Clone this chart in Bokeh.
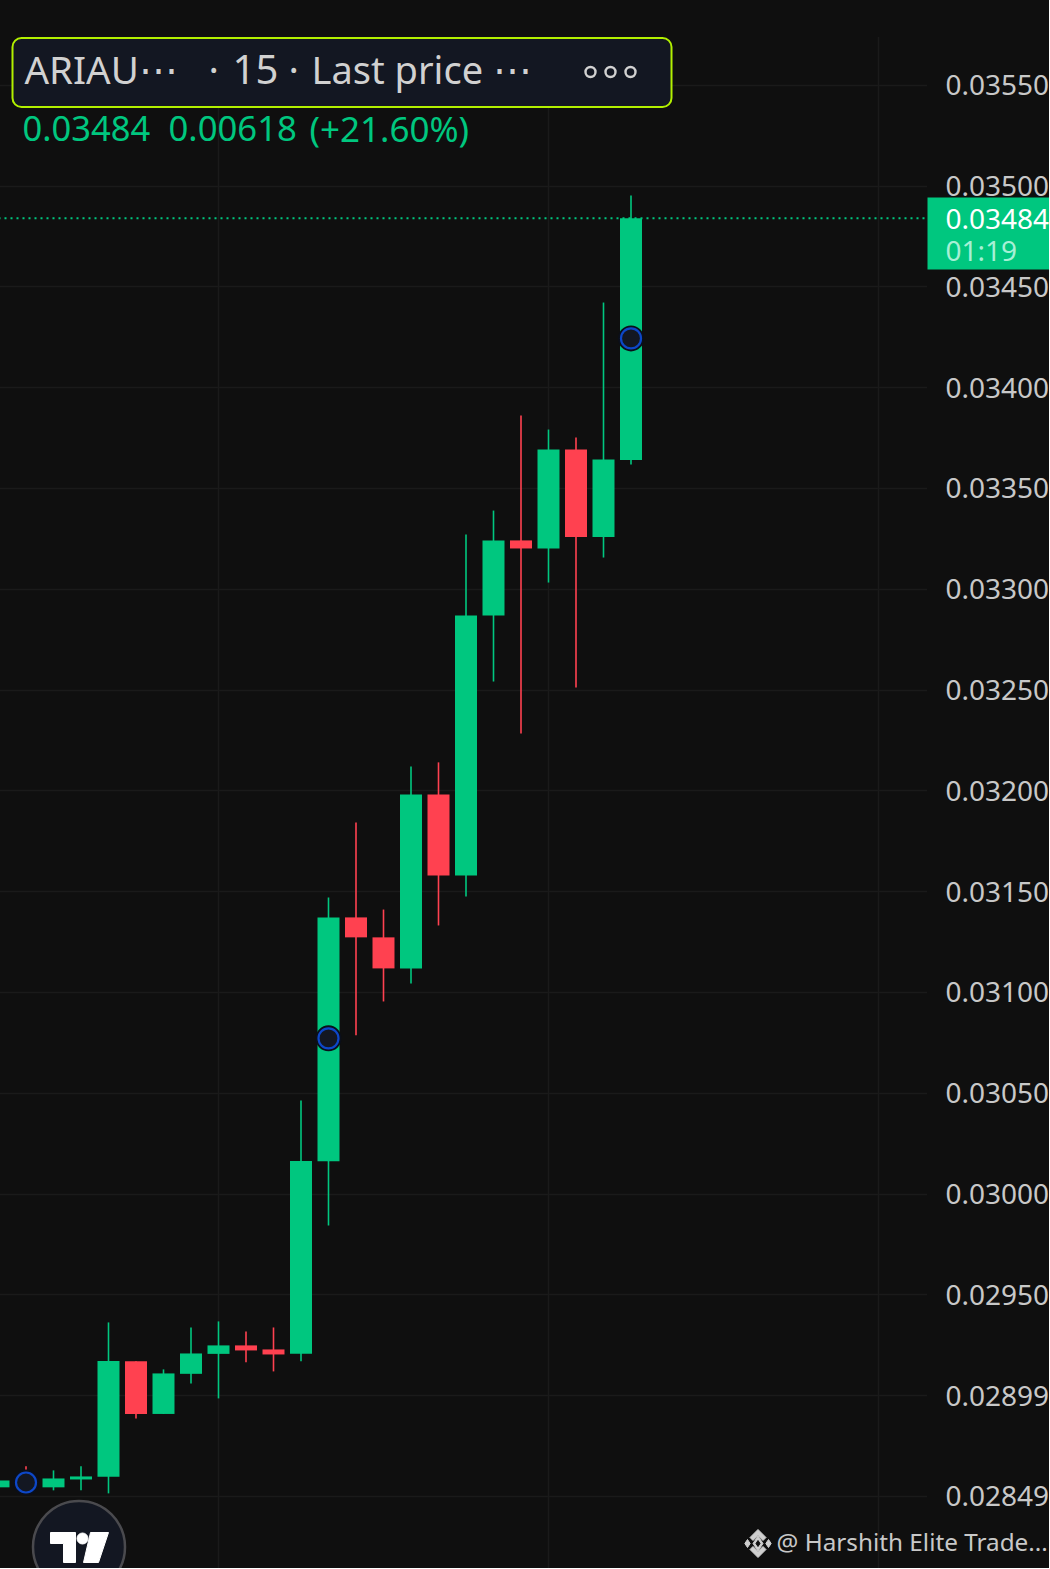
from bokeh.plotting import figure
from bokeh.embed import file_html
from bokeh.resources import INLINE
from bokeh.models import (ColumnDataSource, FixedTicker, Grid, LinearAxis, Range1d,
                          BoxAnnotation, Label)

# ---- data ----
opens = [.028545, .028579, .028545, .028584, .028597, .029170, .028909, .029108,
         .029207, .029249, .029229, .029207, .030162, .031372, .031273, .031119,
         .031982, .031580, .032870, .033242, .033202, .033693, .033259, .033641]
closes = [.028579, .028564, .028589, .028599, .029172, .028909, .029110, .029209,
          .029249, .029224, .029204, .030164, .031372, .031273, .031119, .031982,
          .031580, .032870, .033242, .033202, .033693, .033259, .033643, .034840]
highs = [.028579, .028649, .028629, .028649, .029363, .029170, .029130, .029338,
         .029368, .029318, .029338, .030464, .031471, .031843, .031411, .032121,
         .032141, .033271, .033390, .033862, .033792, .033753, .034422, .034953]
lows = [.028545, .028545, .028530, .028530, .028515, .028887, .028909, .029060,
        .028986, .029165, .029120, .029170, .029844, .030787, .030955, .031044,
        .031332, .031476, .032542, .032284, .033033, .032513, .033157, .033619]
marker_idx = [1, 12, 23]
marker_price = [.028569, .030772, .034244]
last_price = 0.03484
y_ticks = [.0355, .035, .0345, .034, .0335, .033, .0325, .032, .0315, .031, .0305,
           .03, .0295, .029, .0285]
y_labels = ["0.03550", "0.03500", "0.03450", "0.03400", "0.03350", "0.03300", "0.03250",
            "0.03200", "0.03150", "0.03100", "0.03050", "0.03000", "0.02950", "0.02899", "0.02849"]
x_grid = [8, 20, 32]

BG, GRID, UP, DOWN = "#0f0f0f", "#1a1a1a", "#00c77f", "#ff4150"
W, H, FW, OFF = 1049, 1568, 927, 2
PX_PER_UNIT_Y = 100.8 / 0.0005
PX_PER_BAR = 27.5
Y_TOP = 0.035 + 185.5 / PX_PER_UNIT_Y
X_LEFT = 2.0 / PX_PER_BAR

def X(px):
    return X_LEFT + px / PX_PER_BAR

def Y(py):
    return Y_TOP - py / PX_PER_UNIT_Y

def XS(vals):
    return [X(v) for v in vals]

def YS(vals):
    return [Y(v) for v in vals]

p = figure(width=W + OFF, height=H + OFF, output_backend="svg", toolbar_location=None,
           x_range=Range1d(X(-OFF), X(W)), y_range=Range1d(Y(H), Y(-OFF)),
           x_axis_location=None, y_axis_location=None,
           background_fill_color=BG, border_fill_color=BG, outline_line_color=None,
           min_border=0)
p.styles = {"position": "absolute", "left": f"{-OFF}px", "top": f"{-OFF}px"}
p.grid.visible = False

ax = LinearAxis(fixed_location=X(FW))
ax.ticker = FixedTicker(ticks=y_ticks)
ax.major_label_overrides = dict(zip(y_ticks, y_labels))
ax.axis_line_color = None
ax.major_tick_line_color = None
ax.minor_tick_line_color = None
ax.major_tick_out = 0
ax.major_label_standoff = 18
ax.major_label_text_font = "Noto Sans"
ax.major_label_text_font_size = "28px"
ax.major_label_text_color = "#c8c8c8"
p.add_layout(ax, "right")

p.add_layout(Grid(dimension=1, ticker=FixedTicker(ticks=y_ticks),
                  grid_line_color=GRID, grid_line_width=1.5))
p.add_layout(Grid(dimension=0, ticker=FixedTicker(ticks=x_grid),
                  grid_line_color=GRID, grid_line_width=1.5))
# the grid stops at the price scale and below the top band
p.quad(left=[X(FW)], right=[X(W)], bottom=[Y(H)], top=[Y(-OFF)], color=BG)
p.quad(left=[X(-OFF)], right=[X(W)], bottom=[Y(36)], top=[Y(-OFF)], color=BG)

idx = list(range(len(opens)))
colors = [UP if c >= o else DOWN for o, c in zip(opens, closes)]
src = ColumnDataSource(dict(x=idx, open=opens, close=closes, high=highs, low=lows, color=colors))

p.segment("x", "low", "x", "high", source=src, color="color", line_width=1.6)
p.vbar("x", 0.8, "open", "close", source=src, fill_color="color", line_color=None)

p.line(XS([-OFF, FW]), [last_price, last_price], line_color=UP, line_dash="2 4", line_width=1.8)

ms = ColumnDataSource(dict(x=marker_idx, y=marker_price))
p.scatter("x", "y", source=ms, marker="circle", size=26, fill_color="#0b0f1a", line_color=None)
p.scatter("x", "y", source=ms, marker="circle", size=20, fill_color="#131722",
          line_color="#0d47c8", line_width=2.2)

# header pill
p.add_layout(BoxAnnotation(left=X(12), right=X(671), bottom=Y(106.5), top=Y(37.5),
                           fill_color="#131722", fill_alpha=1, line_color="#b2f000",
                           line_alpha=1, line_width=2, border_radius=9))

def lab(text, px, py, size, color, baseline="middle"):
    p.add_layout(Label(x=X(px), y=Y(py), text=text, text_font="Noto Sans",
                       text_font_size=f"{size}px", text_color=color,
                       text_baseline=baseline, text_align="left"))

lab("ARIAU", 24, 68, 38.5, "#d1d1d1")
lab("⋯", 138, 68, 39, "#d1d1d1")
lab("·", 208, 68, 39, "#d1d1d1")
lab("15", 232, 69, 40, "#d1d1d1")
lab("·", 288, 68, 39, "#d1d1d1")
lab("Last price", 311, 68, 38, "#d1d1d1")
lab("⋯", 492, 68, 39, "#d1d1d1")
p.scatter(XS([590, 610, 630]), YS([71.5] * 3), marker="circle", size=10,
          fill_color=None, line_color="#d1d1d1", line_width=2.4, level="overlay")
lab("0.03484", 22, 128, 34.5, UP)
lab("0.00618", 168, 128, 34.7, UP)
lab("(+21.60%)", 309, 128, 35, UP)

# last-price tag
p.add_layout(BoxAnnotation(left=X(FW), right=X(W), bottom=Y(269), top=Y(197),
                           fill_color=UP, fill_alpha=1, line_color=None))
lab("0.03484", 945, 218, 28, "#ffffff")
lab("01:19", 945, 249, 28, "#a6f0d5")

# logo badge
p.scatter([X(78.5)], [Y(1546.5)], marker="circle", size=92, fill_color="#131722",
          line_color="#4a4a4e", line_width=2.5)
p.patch(XS([50, 75, 75, 63, 63, 50]), YS([1532, 1532, 1562, 1562, 1543, 1543]), color="#ffffff")
p.patch(XS([90, 108, 98, 83]), YS([1532, 1532, 1562, 1562]), color="#ffffff")
p.scatter([X(82)], [Y(1538)], marker="circle", size=11, color="#ffffff")

# source credit: exchange emblem then text
cx, cy = 757.5, 1543
chev = [(0, -14), (8, -6), (5, -3), (0, -8), (-5, -3), (-8, -6)]
p.patch(XS([cx + a for a, b in chev]), YS([cy + b for a, b in chev]), color="#cfcfcf")
p.patch(XS([cx + a for a, b in chev]), YS([cy - b for a, b in chev]), color="#cfcfcf")
p.scatter(XS([cx, cx - 10.5, cx + 10.5]), YS([cy, cy, cy]), marker="diamond",
          size=[15, 8, 8], color="#cfcfcf")
p.scatter([X(cx)], [Y(cy)], marker="diamond", size=6, color=BG)
lab("@ Harshith Elite Trade...", 776, 1541, 24.3, "#c8c8c8")

open("out.html", "w").write(file_html(p, INLINE))
